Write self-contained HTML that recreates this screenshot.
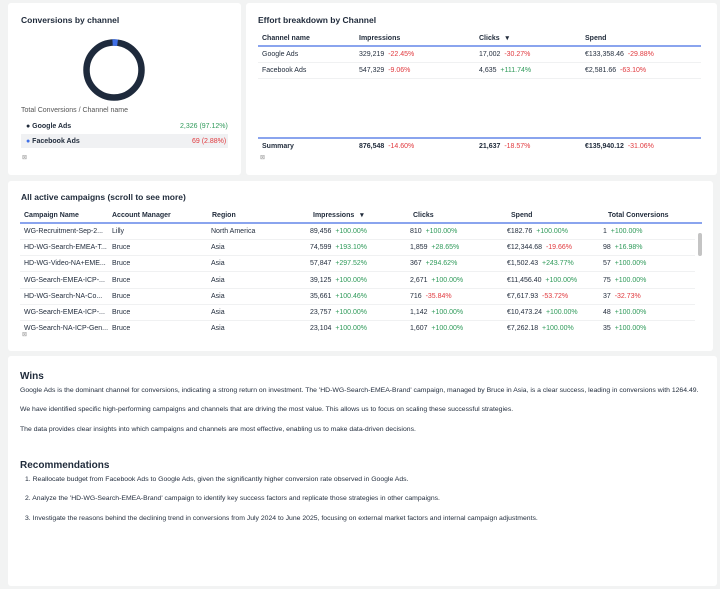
<!DOCTYPE html>
<html><head><meta charset="utf-8"><style>
*{margin:0;padding:0;box-sizing:border-box}
body{width:720px;height:589px;background:#f2f3f3;font-family:"Liberation Sans",sans-serif;color:#1f2a3a;position:relative;overflow:hidden}
.card{position:absolute;background:#fff;border-radius:3px}
.t{position:absolute;white-space:nowrap;font-size:7px;line-height:9px}
.h{font-weight:bold;font-size:8.5px;line-height:10px}
.b{font-weight:bold}
.r{color:#e0393e}.g{color:#2f9a5a}
.line{position:absolute;height:2px;background:#8aa4ee}
.thin{position:absolute;height:1px;background:#f0f1f2}
p.t{font-size:6.85px}
</style></head><body>
<div class="card" style="left:8px;top:3px;width:233px;height:172px"></div>
<div class="card" style="left:246px;top:3px;width:471px;height:172px"></div>
<div class="card" style="left:8px;top:181px;width:705px;height:170px"></div>
<div class="card" style="left:8px;top:356px;width:709px;height:230px"></div>

<div class="t h" style="left:21px;top:15px">Conversions by channel</div>
<svg style="position:absolute;left:82px;top:38px" width="64" height="64"><circle cx="32" cy="32" r="27.5" fill="none" stroke="#1e2a3c" stroke-width="6.5"/><circle cx="32" cy="32" r="27.5" fill="none" stroke="#3f6fe6" stroke-width="6.5" stroke-dasharray="5 200" transform="rotate(-93 32 32)"/></svg>
<div class="t" style="left:21px;top:106px;color:#555">Total Conversions / Channel name</div>
<div style="position:absolute;left:21px;top:134px;width:207px;height:14px;background:#f0f1f3"></div>
<div class="t b" style="left:26px;top:122px">● Google Ads</div>
<div class="t b" style="left:26px;top:137px"><span style="color:#3f6fe6">●</span> Facebook Ads</div>
<div class="t g" style="left:180px;top:122px">2,326 (97.12%)</div>
<div class="t r" style="left:192px;top:137px">69 (2.88%)</div>
<div class="t" style="left:22px;top:154px;font-size:6px;color:#999">⊠</div>

<div class="t h" style="left:258px;top:15px">Effort breakdown by Channel</div>
<div class="t b" style="left:262px;top:34px">Channel name</div>
<div class="t b" style="left:359px;top:34px">Impressions</div>
<div class="t b" style="left:479px;top:34px">Clicks &nbsp;&nbsp;▾</div>
<div class="t b" style="left:585px;top:34px">Spend</div>
<div class="line" style="left:258px;top:45px;width:443px"></div>
<div class="t" style="left:262px;top:50px">Google Ads</div>
<div class="t" style="left:359px;top:50px">329,219 &nbsp;<span class="r">-22.45%</span></div>
<div class="t" style="left:479px;top:50px">17,002 &nbsp;<span class="r">-30.27%</span></div>
<div class="t" style="left:585px;top:50px">€133,358.46 &nbsp;<span class="r">-29.88%</span></div>
<div class="thin" style="left:258px;top:62px;width:443px"></div>
<div class="t" style="left:262px;top:66px">Facebook Ads</div>
<div class="t" style="left:359px;top:66px">547,329 &nbsp;<span class="r">-9.06%</span></div>
<div class="t" style="left:479px;top:66px">4,635 &nbsp;<span class="g">+111.74%</span></div>
<div class="t" style="left:585px;top:66px">€2,581.66 &nbsp;<span class="r">-63.10%</span></div>
<div class="thin" style="left:258px;top:78px;width:443px"></div>
<div class="line" style="left:258px;top:137px;width:443px"></div>
<div class="t b" style="left:262px;top:142px">Summary</div>
<div class="t b" style="left:359px;top:142px">876,548 &nbsp;<span class="r" style="font-weight:normal">-14.60%</span></div>
<div class="t b" style="left:479px;top:142px">21,637 &nbsp;<span class="r" style="font-weight:normal">-18.57%</span></div>
<div class="t b" style="left:585px;top:142px">€135,940.12 &nbsp;<span class="r" style="font-weight:normal">-31.06%</span></div>
<div class="t" style="left:260px;top:154px;font-size:6px;color:#999">⊠</div>

<div class="t h" style="left:21px;top:192px">All active campaigns (scroll to see more)</div>
<div class="t b" style="left:24px;top:211px">Campaign Name</div>
<div class="t b" style="left:112px;top:211px">Account Manager</div>
<div class="t b" style="left:212px;top:211px">Region</div>
<div class="t b" style="left:313px;top:211px">Impressions &nbsp;&nbsp;▾</div>
<div class="t b" style="left:413px;top:211px">Clicks</div>
<div class="t b" style="left:511px;top:211px">Spend</div>
<div class="t b" style="left:608px;top:211px">Total Conversions</div>
<div class="line" style="left:20px;top:222px;width:682px"></div>
<div style="position:absolute;left:698px;top:233px;width:4px;height:23px;border-radius:2px;background:#c4c4c4"></div>
<div id="rows"></div>
<div class="t" style="left:22px;top:331px;font-size:6px;color:#999">⊠</div>

<div class="t" style="left:20px;top:371px;font-size:10px;line-height:12px;font-weight:bold">Wins</div>
<p class="t" style="left:20px;top:386px">Google Ads is the dominant channel for conversions, indicating a strong return on investment. The 'HD-WG-Search-EMEA-Brand' campaign, managed by Bruce in Asia, is a clear success, leading in conversions with 1264.49.</p>
<p class="t" style="left:20px;top:405px">We have identified specific high-performing campaigns and channels that are driving the most value. This allows us to focus on scaling these successful strategies.</p>
<p class="t" style="left:20px;top:425px">The data provides clear insights into which campaigns and channels are most effective, enabling us to make data-driven decisions.</p>
<div class="t" style="left:20px;top:460px;font-size:10px;line-height:12px;font-weight:bold">Recommendations</div>
<p class="t" style="left:25px;top:475px">1. Reallocate budget from Facebook Ads to Google Ads, given the significantly higher conversion rate observed in Google Ads.</p>
<p class="t" style="left:25px;top:494px">2. Analyze the 'HD-WG-Search-EMEA-Brand' campaign to identify key success factors and replicate those strategies in other campaigns.</p>
<p class="t" style="left:25px;top:514px">3. Investigate the reasons behind the declining trend in conversions from July 2024 to June 2025, focusing on external market factors and internal campaign adjustments.</p>
<script>
var d=[["WG-Recruitment-Sep-2...","Lilly","North America","89,456","+100.00%","810","+100.00%","€182.76","+100.00%","1","+100.00%"],
["HD-WG-Search-EMEA-T...","Bruce","Asia","74,599","+193.10%","1,859","+28.65%","€12,344.68","-19.66%","98","+16.98%"],
["HD-WG-Video-NA+EME...","Bruce","Asia","57,847","+297.52%","367","+294.62%","€1,502.43","+243.77%","57","+100.00%"],
["WG-Search-EMEA-ICP-...","Bruce","Asia","39,125","+100.00%","2,671","+100.00%","€11,456.40","+100.00%","75","+100.00%"],
["HD-WG-Search-NA-Co...","Bruce","Asia","35,661","+100.46%","716","-35.84%","€7,617.93","-53.72%","37","-32.73%"],
["WG-Search-EMEA-ICP-...","Bruce","Asia","23,757","+100.00%","1,142","+100.00%","€10,473.24","+100.00%","48","+100.00%"],
["WG-Search-NA-ICP-Gen...","Bruce","Asia","23,104","+100.00%","1,607","+100.00%","€7,262.18","+100.00%","35","+100.00%"]];
var h="";function c(v){return '<span class="'+(v[0]=="-"?"r":"g")+'">'+v+'</span>'}
d.forEach(function(r,i){var y=227+i*16.2;
h+='<div class="t" style="left:24px;top:'+y+'px">'+r[0]+'</div><div class="t" style="left:112px;top:'+y+'px">'+r[1]+'</div><div class="t" style="left:211px;top:'+y+'px">'+r[2]+'</div><div class="t" style="left:310px;top:'+y+'px">'+r[3]+'&nbsp; '+c(r[4])+'</div><div class="t" style="left:410px;top:'+y+'px">'+r[5]+'&nbsp; '+c(r[6])+'</div><div class="t" style="left:507px;top:'+y+'px">'+r[7]+'&nbsp; '+c(r[8])+'</div><div class="t" style="left:603px;top:'+y+'px">'+r[9]+'&nbsp; '+c(r[10])+'</div>';
if(i<6)h+='<div class="thin" style="left:20px;top:'+(y+12)+'px;width:675px"></div>';});
document.getElementById("rows").innerHTML=h;
</script>
</body></html>
